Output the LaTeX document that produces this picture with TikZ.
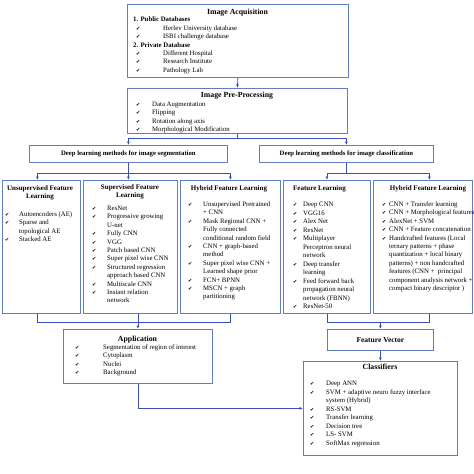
\documentclass[tikz,border=0pt]{standalone}
\usepackage{fontspec}
\setmainfont{Liberation Serif}
\newfontfamily\symf{DejaVu Sans}
\usetikzlibrary{arrows.meta}
\definecolor{boxc}{RGB}{95,125,195}
\definecolor{arrc}{RGB}{55,80,190}
\newcommand\ck{{\symf\fontsize{5}{5}\selectfont\char"2714}}
\newcommand\sr{\rule{0pt}{5pt}}
\newcommand\itm[2]{\sr\makebox[#1][l]{\ck}#2}
\newcommand\cnt[2]{\hspace*{#1}#2}
\begin{document}
\begin{tikzpicture}[x=1pt,y=-1pt,
 bx/.style={draw=boxc,line width=0.8pt,inner sep=0pt,anchor=north west},
 ttl/.style={font=\fontsize{7}{8.4}\selectfont\bfseries,inner sep=0pt,align=center,anchor=north},
 bigttl/.style={ttl,font=\fontsize{7.8}{9}\selectfont\bfseries},
 cnt/.style={font=\fontsize{6.8}{8.4}\selectfont,inner sep=0pt,align=left,anchor=north west},
 ln/.style={draw=arrc,line width=0.8pt},
 ar/.style={ln,-{Latex[length=3.5pt,width=3pt]}}]
\useasboundingbox (0,0) rectangle (474,474);
% boxes
\node[bx,minimum width=221pt,minimum height=73pt] (acq) at (127,4) {};
\node[bx,minimum width=220pt,minimum height=45pt] (pre) at (127,88) {};
\node[bx,minimum width=198pt,minimum height=17pt,font=\fontsize{6.7}{8}\selectfont\bfseries] (seg) at (29,145) {Deep learning methods for image segmentation};
\node[bx,minimum width=174pt,minimum height=17pt,font=\fontsize{6.7}{8}\selectfont\bfseries] (cls) at (259,145) {Deep learning methods for image classification};
\node[bx,minimum width=78pt,minimum height=133pt] (uns) at (2,180) {};
\node[bx,minimum width=94pt,minimum height=133pt] (sup) at (83,180) {};
\node[bx,minimum width=100pt,minimum height=133pt] (hyb) at (180,180) {};
\node[bx,minimum width=87pt,minimum height=133pt] (fl) at (283,180) {};
\node[bx,minimum width=99pt,minimum height=133pt] (hyb2) at (373,180) {};
\node[bx,minimum width=149pt,minimum height=54pt] (app) at (63,329) {};
\node[bx,minimum width=106pt,minimum height=21pt,font=\fontsize{7.5}{8}\selectfont\bfseries] (fv) at (327,329) {Feature Vector};
\node[bx,minimum width=154pt,minimum height=94pt] (clf) at (303,361) {};
% titles
\node[bigttl] (acqT) at (237.5,9) {\sr Image Acquisition};
\node[bigttl] (preT) at (237,92) {\sr Image Pre-Processing};
\node[ttl] (unsT) at (40,185) {\sr Unsupervised Feature\\Learning};
\node[ttl] (supT) at (130,184) {\sr Supervised Feature\\Learning};
\node[ttl] (hybT) at (229,185.5) {\sr Hybrid Feature Learning};
\node[ttl,anchor=north west] (flT) at (293,185.5) {\sr Feature Learning};
\node[ttl] (hyb2T) at (428,185.5) {\sr Hybrid Feature Learning};
\node[bigttl] (appT) at (137.5,335.5) {\sr Application};
\node[bigttl] (clfT) at (380,363.5) {\sr Classifiers};
% contents
\node[cnt] (acqC) at (133,16.7) {\sr\textbf{1. Public Databases}\\
\hspace*{3pt}\itm{27pt}{Herlev University database}\\
\hspace*{3pt}\itm{27pt}{ISBI challenge database}\\
\sr\textbf{2. Private Database}\\
\hspace*{3pt}\itm{27pt}{Different Hospital}\\
\hspace*{3pt}\itm{27pt}{Research Institute}\\
\hspace*{3pt}\itm{27pt}{Pathology Lab}};
\node[cnt] (preC) at (136,101) {\itm{16pt}{Data Augmentation}\\
\itm{16pt}{Flipping}\\
\itm{16pt}{Rotation along axis}\\
\itm{16pt}{Morphological Modification}};
\node[cnt] (unsC) at (5,211.3) {\itm{14pt}{Autoencoders (AE)}\\
\itm{14pt}{Sparse and}\\
\cnt{14pt}{topological AE}\\
\itm{14pt}{Stacked AE}};
\node[cnt] (supC) at (92,205.3) {\itm{15pt}{ResNet}\\
\itm{15pt}{Progressive growing}\\
\cnt{15pt}{U-net}\\
\itm{15pt}{Fully CNN}\\
\itm{15pt}{VGG}\\
\itm{15pt}{Patch based CNN}\\
\itm{15pt}{Super pixel wise CNN}\\
\itm{15pt}{Structured regression}\\
\cnt{15pt}{approach based CNN}\\
\itm{15pt}{Multiscale CNN}\\
\itm{15pt}{Instant relation}\\
\cnt{15pt}{network}};
\node[cnt] (hybC) at (188,201.3) {\itm{15pt}{Unsupervised Pretrained}\\
\cnt{15pt}{+ CNN}\\
\itm{15pt}{Mask Regional CNN +}\\
\cnt{15pt}{Fully connected}\\
\cnt{15pt}{conditional random field}\\
\itm{15pt}{CNN + graph-based}\\
\cnt{15pt}{method}\\
\itm{15pt}{Super pixel wise CNN +}\\
\cnt{15pt}{Learned shape prior}\\
\itm{15pt}{FCN+ BPNN}\\
\itm{15pt}{MSCN + graph}\\
\cnt{15pt}{partitioning}};
\node[cnt,font=\fontsize{6.8}{8.5}\selectfont] (flC) at (293,201.3) {\itm{10pt}{Deep CNN}\\
\itm{10pt}{VGG16}\\
\itm{10pt}{Alex Net}\\
\itm{10pt}{ResNet}\\
\itm{10pt}{Multiplayer}\\
\cnt{10pt}{Perceptron neural}\\
\cnt{10pt}{network}\\
\itm{10pt}{Deep transfer}\\
\cnt{10pt}{learning}\\
\itm{10pt}{Feed forward back}\\
\cnt{10pt}{propagation neural}\\
\cnt{10pt}{network (FBNN)}\\
\itm{10pt}{ResNet-50}};
\node[cnt] (hyb2C) at (382,201.3) {\itm{7pt}{CNN + Transfer learning}\\
\itm{7pt}{CNN + Morphological features}\\
\itm{7pt}{AlexNet + SVM}\\
\itm{7pt}{CNN + Feature concatenation}\\
\itm{7pt}{Handcrafted features (Local}\\
\cnt{7pt}{ternary patterns + phase}\\
\cnt{7pt}{quantization + local binary}\\
\cnt{7pt}{patterns) + non handcrafted}\\
\cnt{7pt}{features (CNN +\ \ principal}\\
\cnt{7pt}{component analysis network +}\\
\cnt{7pt}{compact binary descriptor )}};
\node[cnt] (appC) at (75,344.3) {\itm{28pt}{Segmentation of region of interest}\\
\itm{28pt}{Cytoplasm}\\
\itm{28pt}{Nuclei}\\
\itm{28pt}{Background}};
\node[cnt,font=\fontsize{6.8}{8.5}\selectfont] (clfC) at (310,380.3) {\itm{16pt}{Deep ANN}\\
\itm{16pt}{SVM + adaptive neuro fuzzy interface}\\
\cnt{16pt}{system (Hybrid)}\\
\itm{16pt}{RS-SVM}\\
\itm{16pt}{Transfer learning}\\
\itm{16pt}{Decision tree}\\
\itm{16pt}{LS- SVM}\\
\itm{16pt}{SoftMax regression}};
% connectors
\draw[ar] (acq.south) -- (pre.north);
\draw[ln] (pre.south) -- ++(0,5) coordinate (jp);
\draw[ar] (jp) -| (seg.north);
\draw[ar] (jp) -| (cls.north);
\draw[ln] (seg.south) -- ++(0,11) coordinate (js);
\draw[ar] (js) -| ([xshift=-4pt]uns.north);
\draw[ar] (js) -- (js |- sup.north);
\draw[ar] (js) -| (hyb.north);
\draw[ln] (cls.south) -- ++(0,11) coordinate (jc);
\draw[ar] (jc) -| (fl.north);
\draw[ar] (jc) -| ([xshift=6.5pt]hyb2.north);
\draw[ln] ([xshift=-4pt]uns.south) -- ++(0,9) coordinate (ja) -| (hyb.south);
\draw[ar] (app.north |- sup.south) -- (app.north);
\draw[ln] (fl.south) -- ++(0,9) coordinate (jb) -| ([xshift=6.5pt]hyb2.south);
\draw[ar] (fv.north |- jb) -- (fv.north);
\draw[ar] (fv.south) -- (clf.north);
\draw[ar] (app.south) |- (clf.west);
\end{tikzpicture}
\end{document}
